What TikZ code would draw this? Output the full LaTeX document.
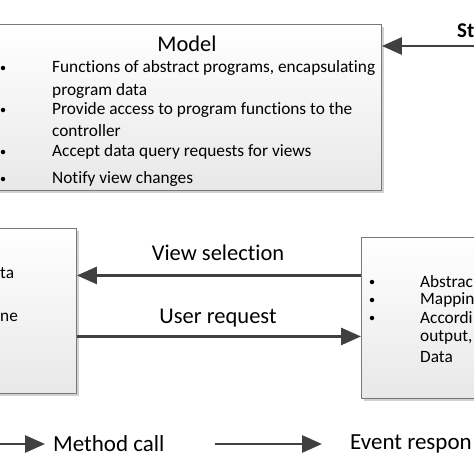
\documentclass[tikz,border=0pt]{standalone}
\usepackage{fontspec}
\setmainfont{Carlito}[Ligatures=NoCommon]
\usetikzlibrary{arrows.meta,positioning,shadows}
\definecolor{linegray}{RGB}{64,64,64}
\definecolor{framegray}{RGB}{120,120,120}
\tikzset{
  call/.style={-{Triangle[length=20pt,width=17pt]}, line width=2.8pt, draw=linegray, fill=linegray},
  panel/.style={draw=framegray, line width=0.9pt, top color=white, bottom color=black!9,
    drop shadow={shadow xshift=3pt, shadow yshift=-3pt, fill=black!18, opacity=1}},
  paneltitle/.style={font=\fontsize{22.4}{26}\selectfont},
  item/.style={font=\fontsize{17.3}{20}\selectfont, anchor=west, inner sep=0pt},
  dot/.style={circle, fill=black, inner sep=0pt, minimum size=4.5pt},
  armlabel/.style={font=\fontsize{22.5}{26}\selectfont},
  legendtext/.style={font=\fontsize{23}{27}\selectfont, anchor=west, inner sep=0pt}
}

\begin{document}
\begin{tikzpicture}[x=1pt, y=-1pt]
  \useasboundingbox (0,0) rectangle (474,474);
  \clip (0,0) rectangle (474,474);

  % Boxes.
  \node[panel, anchor=north west, minimum width=396pt, minimum height=166pt] (model) at (-15,24) {};
  \node[panel, anchor=north west, minimum width=96pt, minimum height=165pt] (view) at (-20,228) {};
  \node[panel, anchor=north west, minimum width=140pt, minimum height=161pt] (controller) at (361,237) {};

  % Model contents.
  \node[paneltitle] (modeltitle) at (187,44) {Model};
  \node[item] (m1) at (52,68) {Functions of abstract programs, encapsulating};
  \node[item] (m1b) at (52,91) {program data};
  \node[item] (m2) at (52,110) {Provide access to program functions to the};
  \node[item] (m2b) at (52,131) {controller};
  \node[item] (m3) at (52,152) {Accept data query requests for views};
  \node[item] (m4) at (52,179) {Notify view changes};
  \foreach \y in {68,110,152,179}
    \node[dot] (mb\y) at (3,\y) {};

  % View contents.
  \node[item] (v1) at (0,273) {ta};
  \node[item] (v2) at (0,317) {ne};

  % Controller contents.
  \node[item] (c1) at (420,282) {Abstrac};
  \node[item] (c2) at (420,300) {Mappin};
  \node[item] (c3) at (420,318) {Accordi};
  \node[item] (c3b) at (420,337) {output,};
  \node[item] (c4) at (420,357) {Data};
  \foreach \y in {282,300,318}
    \node[dot] (cb\y) at (372,\y) {};

  % Connectors.
  \coordinate (statein) at (490,46);
  \draw[call] (statein) -- (statein -| model.east);
  \node[item, font=\fontsize{21}{24}\selectfont\bfseries] (statelabel) at (457,31) {St};

  \draw[call] ([yshift=42.5pt]controller.west) -- ([yshift=42.5pt]controller.west -| view.east);
  \draw[call] ([yshift=-25.5pt]view.east) -- ([yshift=-25.5pt]view.east -| controller.west);
  \node[armlabel] (viewsel) at (218,253) {View selection};
  \node[armlabel] (userreq) at (218,318) {User request};

  % Legend.
  \coordinate (mstart) at (-5,444);
  \coordinate (mend) at (45,444);
  \draw[call] (mstart) -- (mend);
  \node[legendtext] (mcall) at (53,444) {Method call};
  \coordinate (estart) at (215,444);
  \coordinate (eend) at (322,444);
  \draw[call] (estart) -- (eend);
  \node[legendtext] (eresp) at (350,444) {Event respon};
\end{tikzpicture}
\end{document}
